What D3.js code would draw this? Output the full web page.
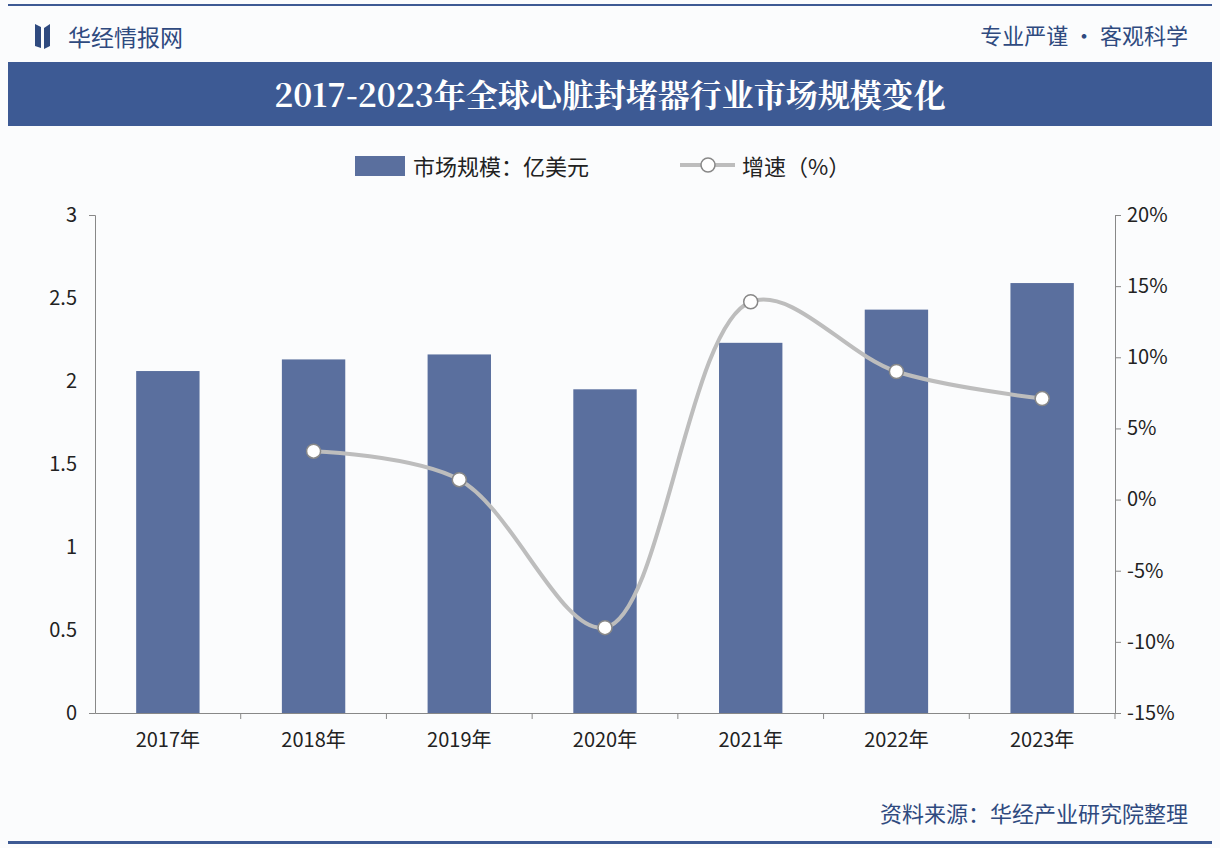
<!DOCTYPE html><html><head><meta charset="utf-8"><script src="https://cdn.jsdelivr.net/npm/d3@7"></script>
<style>body{margin:0;background:#fff}</style></head><body><svg id="c" width="1220" height="848"></svg>
<script>
const years=["2017年","2018年","2019年","2020年","2021年","2022年","2023年"];
const market=[2.06,2.13,2.16,1.95,2.23,2.43,2.59];
const growth=[null,3.4,1.4,-9.0,13.9,9.0,7.1];
const leftTicks=[0,0.5,1,1.5,2,2.5,3];
const rightTicks=[-15,-10,-5,0,5,10,15,20];
const svg=d3.select("#c");
const F="'Noto Sans CJK SC','Noto Sans',sans-serif";
svg.append("rect").attr("width",1220).attr("height",848).attr("fill","#fbfcfd");
svg.append("rect").attr("x",8).attr("y",4).attr("width",1204).attr("height",2).attr("fill","#3d5a94");
svg.append("rect").attr("x",8).attr("y",841).attr("width",1204).attr("height",3).attr("fill","#3d5a94");
svg.append("path").attr("d","M35 24 L41 27 L41 48 L35 46 Z M44 28 L50 24 L50 46 L44 49 Z").attr("fill","#2f4a7f");
svg.append("text").attr("x",68).attr("y",46).attr("font-family",F).attr("font-size",23).attr("fill","#2f4a7f").text("华经情报网");
svg.append("text").attr("x",1188).attr("y",44).attr("text-anchor","end").attr("font-family",F).attr("font-size",22).attr("fill","#2f4a7f").text("专业严谨 • 客观科学");
svg.append("rect").attr("x",8).attr("y",62).attr("width",1204).attr("height",64).attr("fill","#3d5a94");
svg.append("text").attr("x",610).attr("y",107).attr("text-anchor","middle").attr("font-family","'Noto Serif CJK SC','Noto Sans CJK SC',serif").attr("font-weight","bold").attr("font-size",32).attr("fill","#fff").text("2017-2023年全球心脏封堵器行业市场规模变化");
const x=d3.scaleBand().domain(years).range([95,1115]).paddingInner(0.565).paddingOuter(0.2825);
const y=d3.scaleLinear().domain([0,3]).range([713,215]);
const y2=d3.scaleLinear().domain([-15,20]).range([713,215]);
const ga=svg.append("g").attr("transform","translate(95,0)").call(d3.axisLeft(y).tickValues(leftTicks).tickFormat(d3.format("")).tickSize(6));
const gb=svg.append("g").attr("transform","translate(1115,0)").call(d3.axisRight(y2).tickValues(rightTicks).tickFormat(d=>d+"%").tickSize(6));
const gx=svg.append("g").attr("transform","translate(0,713)").call(d3.axisBottom(x).tickSize(0).tickPadding(20));
[ga,gb,gx].forEach(g=>{g.selectAll("path,line").attr("stroke","#888");g.selectAll("text").attr("font-family",F).attr("font-size",20).attr("fill","#222");});
ga.selectAll(".tick line").attr("x2",0);
ga.selectAll("text").attr("x",-18);gb.selectAll("text").attr("x",12);
gx.selectAll(".tick").append("line").attr("x1",x.step()/2).attr("x2",x.step()/2).attr("y2",6).attr("stroke","#888");
svg.append("g").selectAll("rect").data(market).join("rect").attr("x",(d,i)=>x(years[i])).attr("width",x.bandwidth()).attr("y",d=>y(d)).attr("height",d=>713-y(d)).attr("fill","#5a6f9e");
const pts=growth.map((g,i)=>[x(years[i])+x.bandwidth()/2,g]).filter(p=>p[1]!==null);
svg.append("path").attr("d",d3.line().x(p=>p[0]).y(p=>y2(p[1])).curve(d3.curveCatmullRom)(pts)).attr("fill","none").attr("stroke","#bdbdbd").attr("stroke-width",4);
svg.append("g").selectAll("circle").data(pts).join("circle").attr("cx",p=>p[0]).attr("cy",p=>y2(p[1])).attr("r",7).attr("fill","#fff").attr("stroke","#888").attr("stroke-width",1.5);
svg.append("rect").attr("x",355).attr("y",156).attr("width",50).attr("height",20).attr("fill","#5a6f9e");
svg.append("text").attr("x",413).attr("y",175).attr("font-family",F).attr("font-size",22).attr("fill","#222").text("市场规模：亿美元");
svg.append("line").attr("x1",680).attr("x2",735).attr("y1",165).attr("y2",165).attr("stroke","#bdbdbd").attr("stroke-width",4);
svg.append("circle").attr("cx",708).attr("cy",165).attr("r",7).attr("fill","#fff").attr("stroke","#888").attr("stroke-width",1.5);
svg.append("text").attr("x",742).attr("y",175).attr("font-family",F).attr("font-size",22).attr("fill","#222").text("增速（%）");
svg.append("text").attr("x",1188).attr("y",822).attr("text-anchor","end").attr("font-family",F).attr("font-size",22).attr("fill","#2f4a7f").text("资料来源：华经产业研究院整理");
</script></body></html>
